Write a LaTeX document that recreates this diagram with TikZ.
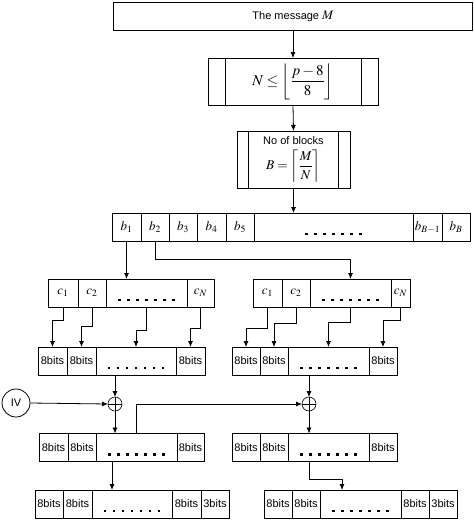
\documentclass[tikz,border=0pt]{standalone}
\usepackage{amsmath}
\usepackage{mathptmx}
\usepackage[no-math]{fontspec}
\setmainfont{Liberation Sans}
\usepackage{tikz}
\usetikzlibrary{arrows.meta, positioning}

% dotted filler for the long cells
\newcommand{\celldots}{\raisebox{-8pt}[0pt][0pt]{\rule{2.5pt}{2.5pt}\hspace{6.5pt}\rule{2.5pt}{2.5pt}\hspace{6.5pt}\rule{2.5pt}{2.5pt}\hspace{6.5pt}\rule{2.5pt}{2.5pt}\hspace{6.5pt}\rule{2.5pt}{2.5pt}\hspace{6.5pt}\rule{2.5pt}{2.5pt}\hspace{6.5pt}\rule{2.5pt}{2.5pt}}}

\tikzset{
  cell/.style={draw, line width=0.8pt, minimum height=28pt, inner sep=0pt, outer sep=0pt},
  symcell/.style={cell, font=\fontsize{13}{15}\selectfont},
  procbox/.style={draw, line width=0.8pt, inner sep=0pt, outer sep=0pt, align=center},
  xorop/.style={draw, circle, line width=0.6pt, minimum size=14pt, inner sep=0pt, outer sep=0pt},
  arr/.style={-{Latex[length=6pt, width=5pt]}, line width=0.8pt},
}

\begin{document}
\begin{tikzpicture}[x=1pt, y=-1pt, font=\fontsize{11}{13}\selectfont]
        \useasboundingbox (0,0) rectangle (474,520);

        % message and block size
        \node[procbox, minimum width=359pt, minimum height=28pt] (msg) at (293,16) {The message {\fontsize{13}{15}\selectfont$M$}};
        \node[procbox, minimum width=170pt, minimum height=47pt, font=\fontsize{15}{17}\selectfont] (nsize) at (293,81.5) {$N \le \left\lfloor \dfrac{p-8}{8} \right\rfloor$};
        \draw[line width=0.8pt] ([xshift=17pt]nsize.north west) -- ([xshift=17pt]nsize.south west);
        \draw[line width=0.8pt] ([xshift=-17pt]nsize.north east) -- ([xshift=-17pt]nsize.south east);
        \node[procbox, minimum width=113pt, minimum height=57pt] (nblocks) at (293.5,159.5) {No of blocks\\[5pt]{\fontsize{13.5}{16}\selectfont$B = \left\lceil \dfrac{M}{N} \right\rceil$}};
        \draw[line width=0.8pt] ([xshift=11.5pt]nblocks.north west) -- ([xshift=11.5pt]nblocks.south west);
        \draw[line width=0.8pt] ([xshift=-11.5pt]nblocks.north east) -- ([xshift=-11.5pt]nblocks.south east);

        % blocks b_1 ... b_B
        \node[symcell, minimum width=29pt] (b1) at (126.5,227) {$b_1$};
        \node[symcell, minimum width=28pt, right=0pt of b1] (b2) {$b_2$};
        \node[symcell, minimum width=28pt, right=0pt of b2] (b3) {$b_3$};
        \node[symcell, minimum width=29pt, right=0pt of b3] (b4) {$b_4$};
        \node[symcell, minimum width=28pt, right=0pt of b4] (b5) {$b_5$};
        \node[cell, minimum width=159pt, right=0pt of b5] (bdots) {\celldots};
        \node[symcell, minimum width=29pt, right=0pt of bdots] (bB1) {$b_{B-1}$};
        \node[symcell, minimum width=28pt, right=0pt of bB1] (bB) {$b_B$};

        % characters of b_1 and b_2
        \node[symcell, minimum width=30pt] (cL1) at (63,293) {$c_1$};
        \node[symcell, minimum width=28pt, right=0pt of cL1] (cL2) {$c_2$};
        \node[cell, minimum width=81pt, right=0pt of cL2] (cLdots) {\celldots};
        \node[symcell, minimum width=27pt, right=0pt of cLdots] (cLN) {$c_N$};

        \node[symcell, minimum width=29pt] (cR1) at (267.5,293) {$c_1$};
        \node[symcell, minimum width=28pt, right=0pt of cR1] (cR2) {$c_2$};
        \node[cell, minimum width=81pt, right=0pt of cR2] (cRdots) {\celldots};
        \node[symcell, minimum width=19pt, right=0pt of cRdots] (cRN) {$c_N$};

        % 8 bit codes
        \node[cell, minimum width=29pt] (bitsL1) at (52.5,361) {8bits};
        \node[cell, minimum width=29pt, right=0pt of bitsL1] (bitsL2) {8bits};
        \node[cell, minimum width=80pt, right=0pt of bitsL2] (bitsLdots) {\celldots};
        \node[cell, minimum width=29pt, right=0pt of bitsLdots] (bitsLN) {8bits};

        \node[cell, minimum width=28pt] (bitsR1) at (246,361) {8bits};
        \node[cell, minimum width=28pt, right=0pt of bitsR1] (bitsR2) {8bits};
        \node[cell, minimum width=81pt, right=0pt of bitsR2] (bitsRdots) {\celldots};
        \node[cell, minimum width=28pt, right=0pt of bitsRdots] (bitsRN) {8bits};

        % IV and xor
        \node[draw, circle, line width=0.8pt, minimum size=28pt, inner sep=0pt] (iv) at (16,403) {IV};
        \node[xorop] (xorL) at (115,404) {};
        \draw[line width=0.6pt] (xorL.north) -- (xorL.south) (xorL.west) -- (xorL.east);
        \node[xorop] (xorR) at (309,404) {};
        \draw[line width=0.6pt] (xorR.north) -- (xorR.south) (xorR.west) -- (xorR.east);

        % after xor
        \node[cell, minimum width=29pt] (outL1) at (53.5,447.5) {8bits};
        \node[cell, minimum width=28pt, right=0pt of outL1] (outL2) {8bits};
        \node[cell, minimum width=81pt, right=0pt of outL2] (outLdots) {\celldots};
        \node[cell, minimum width=27pt, right=0pt of outLdots] (outLN) {8bits};

        \node[cell, minimum width=28pt] (outR1) at (246,447.5) {8bits};
        \node[cell, minimum width=28pt, right=0pt of outR1] (outR2) {8bits};
        \node[cell, minimum width=81pt, right=0pt of outR2] (outRdots) {\celldots};
        \node[cell, minimum width=28pt, right=0pt of outRdots] (outRN) {8bits};

        % final codes with 3 bit tail
        \node[cell, minimum width=28pt] (finL1) at (49,504) {8bits};
        \node[cell, minimum width=29pt, right=0pt of finL1] (finL2) {8bits};
        \node[cell, minimum width=80pt, right=0pt of finL2] (finLdots) {\celldots};
        \node[cell, minimum width=29pt, right=0pt of finLdots] (finLN) {8bits};
        \node[cell, minimum width=28pt, right=0pt of finLN] (finLtail) {3bits};

        \node[cell, minimum width=28pt] (finR1) at (278,504) {8bits};
        \node[cell, minimum width=28pt, right=0pt of finR1] (finR2) {8bits};
        \node[cell, minimum width=81pt, right=0pt of finR2] (finRdots) {\celldots};
        \node[cell, minimum width=28pt, right=0pt of finRdots] (finRN) {8bits};
        \node[cell, minimum width=28pt, right=0pt of finRN] (finRtail) {3bits};

        % Arrows
        \draw[arr] (msg.south) -- (nsize.north);
        \draw[arr] (nsize.south) -- (nblocks.north);
        \draw[arr] (nblocks.south) -- (nblocks.south |- bdots.north);
        \draw[arr] (b1.south) -- (b1.south |- cLdots.north);
        \draw[arr] (b2.south) -- ++(0,18) -| (cRdots.north);

        \draw[arr] (cL1.south) -- ++(0,13) -| (bitsL1.north);
        \draw[arr] (cL2.south) -- ++(0,19) -| (bitsL2.north);
        \draw[arr] (cLdots.south) -- ++(0,23) -| (bitsLdots.north);
        \draw[arr] (cLN.south) -- ++(0,21) -| (bitsLN.north);
        \draw[arr] (cR1.south) -- ++(0,21) -| (bitsR1.north);
        \draw[arr] (cR2.south) -- ++(0,16) -| (bitsR2.north);
        \draw[arr] (cRdots.south) -- ++(0,15) -| (bitsRdots.north);
        \draw[arr] (cRN.south) -- ++(0,13) -| (bitsRN.north);

        \draw[arr] (iv.east) -- (xorL.west);
        \draw[arr] (xorL |- bitsLdots.south) -- (xorL.north);
        \draw[arr] (xorL.south) -- (xorL |- outLdots.north);
        \draw[arr] (outLdots.north) |- (xorR.west);
        \draw[arr] (xorR |- bitsRdots.south) -- (xorR.north);
        \draw[arr] (xorR.south) -- (xorR |- outRdots.north);
        \draw[arr] ([xshift=-3pt]xorL |- outLdots.south) -- ([xshift=-3pt]xorL |- finLdots.north);
        \draw[arr] (xorR |- outRdots.south) -- ++(0,18) -| ([xshift=-18.5pt]finRdots.north);
    \end{tikzpicture}
\end{document}
